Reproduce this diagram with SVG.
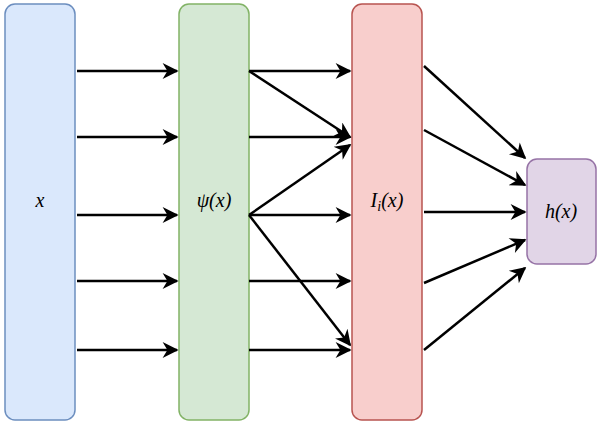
<svg xmlns="http://www.w3.org/2000/svg" width="610" height="425" viewBox="0 0 610 425">
<style>
.t{font-family:"Liberation Serif",serif;font-style:italic;font-size:20px;text-anchor:middle}
.c line{stroke:#000;stroke-width:2.5}
</style>
<defs>
<marker id="b" viewBox="0 0 10 10" refX="9" refY="5" markerWidth="18" markerHeight="16" orient="auto" markerUnits="userSpaceOnUse"><path d="M0,0 L10,5 L0,10 L3,5 Z"/></marker></defs>
<rect width="610" height="425" fill="#fff"/>
<g id="nx"><rect x="5" y="4" width="70" height="416" rx="10" fill="#dae8fc" stroke="#6c8ebf" stroke-width="1.5"/><text class="t" x="40" y="207">x</text></g>
<g id="npsi"><rect x="179" y="4" width="70" height="416" rx="10" fill="#d5e8d4" stroke="#82b366" stroke-width="1.5"/><text class="t" x="214" y="207">ψ(x)</text></g>
<g id="ni"><rect x="352" y="4" width="70" height="416" rx="10" fill="#f8cecc" stroke="#b85450" stroke-width="1.5"/><text class="t" x="387" y="207">I<tspan font-size="14" dy="4">i</tspan><tspan dy="-4">(x)</tspan></text></g>
<g id="nh"><rect x="527" y="159" width="69" height="105" rx="10" fill="#e1d5e7" stroke="#9673a6" stroke-width="1.5"/><text class="t" x="561" y="218">h(x)</text></g>
<g class="c" id="connectors">
<line x1="77" y1="71" x2="177" y2="71" marker-end="url(#b)"/>
<line x1="77" y1="137" x2="177" y2="137" marker-end="url(#b)"/>
<line x1="77" y1="215" x2="177" y2="215" marker-end="url(#b)"/>
<line x1="77" y1="281" x2="177" y2="281" marker-end="url(#b)"/>
<line x1="77" y1="350" x2="177" y2="350" marker-end="url(#b)"/>
<line x1="249" y1="71" x2="350" y2="71" marker-end="url(#b)"/>
<line x1="249" y1="71" x2="350" y2="137" marker-end="url(#b)"/>
<line x1="249" y1="137" x2="350" y2="137" marker-end="url(#b)"/>
<line x1="249" y1="215" x2="350" y2="145" marker-end="url(#b)"/>
<line x1="249" y1="215" x2="350" y2="215" marker-end="url(#b)"/>
<line x1="249" y1="215" x2="350" y2="345" marker-end="url(#b)"/>
<line x1="249" y1="281" x2="350" y2="281" marker-end="url(#b)"/>
<line x1="249" y1="350" x2="350" y2="350" marker-end="url(#b)"/>
<line x1="424" y1="66" x2="525" y2="158" marker-end="url(#b)"/>
<line x1="424" y1="130" x2="525" y2="185" marker-end="url(#b)"/>
<line x1="424" y1="212" x2="525" y2="212" marker-end="url(#b)"/>
<line x1="424" y1="283" x2="525" y2="240" marker-end="url(#b)"/>
<line x1="424" y1="350" x2="525" y2="268" marker-end="url(#b)"/>
</g>
</svg>
